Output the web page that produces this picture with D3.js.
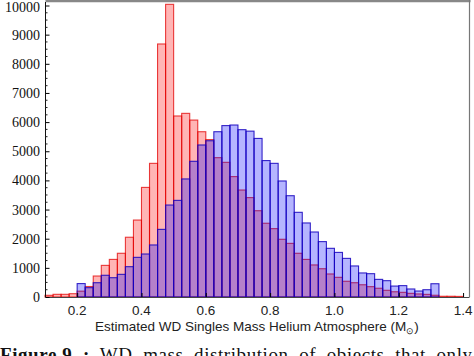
<!DOCTYPE html>
<html><head><meta charset="utf-8">
<script src="https://cdn.jsdelivr.net/npm/d3@7"></script>
<style>html,body{margin:0;padding:0;background:#fff;overflow:hidden}</style>
</head><body>
<svg id="c" width="474" height="356"></svg>
<script>
const binStart = 0.1, binWidth = 0.025;
const redCounts = [58,92,92,113,200,360,720,1085,1290,1500,2050,2640,3760,4585,8680,10040,6210,6300,6070,5670,5400,4780,4620,4130,3670,3410,2960,2530,2345,1980,1840,1500,1290,1100,970,790,675,540,490,420,355,300,230,180,160,125,105,90,60,25,25,20];
const blueCounts = [0,0,0,0,460,320,490,745,662,777,1040,1360,1475,1785,2320,3155,3315,4050,4655,5215,5360,5670,5880,5900,5740,5690,5440,4680,4585,3980,3475,2905,2540,2230,1900,1670,1530,1325,1065,825,800,605,560,375,390,275,205,250,455,0,0,0];
const xTicks = [0.2,0.4,0.6,0.8,1.0,1.2,1.4];
const yTicks = [0,1000,2000,3000,4000,5000,6000,7000,8000,9000,10000];
const xLabel = "Estimated WD Singles Mass Helium Atmosphere (M";
const caption = ["Figure 9. :", "WD  mass  distribution  of  objects  that  only"];

const svg = d3.select("#c");
const L = 45.5, R = 469.5, T = 2, B = 297;
const x = d3.scaleLinear().domain([0.1, 1.42]).range([45, 469.5]);
const y = d3.scaleLinear().domain([0, 10000]).range([297, 5.5]);

function bars(counts, fill, stroke) {
  const data = counts.map((c, i) => ({x0: binStart + i*binWidth, x1: binStart + (i+1)*binWidth, c})).filter(d => d.c > 0);
  svg.append("g").selectAll("rect").data(data).join("rect")
    .attr("x", d => x(d.x0)).attr("width", d => x(d.x1) - x(d.x0))
    .attr("y", d => y(d.c)).attr("height", d => y(0) - y(d.c))
    .attr("fill", fill).attr("stroke", stroke).attr("stroke-width", 1.1);
}
bars(redCounts, "rgba(255,0,0,0.29)", "rgba(225,0,0,0.75)");
bars(blueCounts, "rgba(0,0,255,0.29)", "rgba(20,0,190,0.85)");

// spines
svg.append("line").attr("x1", L).attr("x2", R+1).attr("y1", 1).attr("y2", 1).attr("stroke", "#888").attr("stroke-width", 2.5);
svg.append("line").attr("x1", R).attr("x2", R).attr("y1", 0).attr("y2", B).attr("stroke", "#777").attr("stroke-width", 1.2);
svg.append("line").attr("x1", L).attr("x2", R).attr("y1", B+0.5).attr("y2", B+0.5).attr("stroke", "#444").attr("stroke-width", 1);

// y axis
const yAxis = d3.axisRight(y).tickValues(yTicks).tickSize(4).tickFormat("");
const gy = svg.append("g").attr("transform", `translate(${L},0)`).call(yAxis);
gy.select(".domain").attr("stroke", "#111").attr("d", `M0,${T}V${B}`);
const minor = d3.range(0, 10001, 250).filter(v => v % 1000 !== 0);
svg.append("g").selectAll("line").data(minor).join("line")
  .attr("x1", L).attr("x2", L+2).attr("y1", d => y(d)).attr("y2", d => y(d)).attr("stroke", "#222");
svg.append("g").selectAll("text").data(yTicks).join("text")
  .attr("x", 40).attr("y", d => Math.max(y(d) + 5, 12))
  .attr("text-anchor", "end").attr("font-family", "Liberation Serif").attr("font-size", 14)
  .attr("fill", "#111").text(d => d);

// x axis
const xAxis = d3.axisTop(x).tickValues(xTicks).tickSize(4).tickFormat("");
const gx = svg.append("g").attr("transform", `translate(0,${B})`).call(xAxis);
gx.select(".domain").remove();
svg.append("g").selectAll("text").data(xTicks).join("text")
  .attr("x", d => x(d)).attr("y", 315)
  .attr("text-anchor", "middle").attr("font-family", "Liberation Sans").attr("font-size", 13.5)
  .attr("fill", "#222").text(d => d.toFixed(1));

const xl = svg.append("text").attr("x", 95).attr("y", 331)
  .attr("font-family", "Liberation Sans").attr("font-size", 13.5).attr("fill", "#222");
xl.append("tspan").text(xLabel);
xl.append("tspan").attr("font-size", 9).attr("dy", 3).text("⊙");
xl.append("tspan").attr("dy", -3).text(")");

const cap = svg.append("text").attr("x", 0).attr("y", 361)
  .attr("font-family", "Liberation Serif").attr("font-size", 19).attr("fill", "#111")
  .attr("textLength", 472).attr("lengthAdjust", "spacing");
cap.append("tspan").attr("font-weight", "bold").text(caption[0]);
cap.append("tspan").attr("dx", 10).attr("xml:space", "preserve").text(caption[1]);
</script>
</body></html>
